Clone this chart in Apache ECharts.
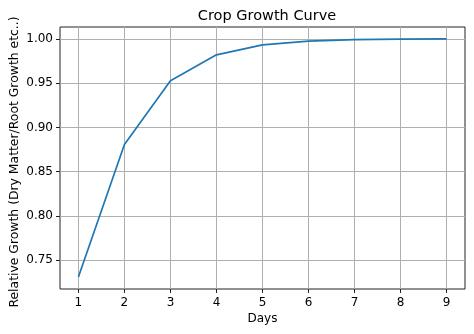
<!DOCTYPE html>
<html><head><meta charset="utf-8">
<script src="https://cdn.jsdelivr.net/npm/echarts@6/dist/echarts.min.js"></script>
<style>html,body{margin:0;padding:0;background:#fff}#c{width:474px;height:334px}</style>
</head><body><div id="c"></div>
<script>
const days = [1, 2, 3, 4, 5, 6, 7, 8, 9];
const growth = [0.7311, 0.8808, 0.9526, 0.9820, 0.9933, 0.9975, 0.9991, 0.9997, 0.9999];
const xTicks = [1, 2, 3, 4, 5, 6, 7, 8, 9];
const yTicks = [0.75, 0.80, 0.85, 0.90, 0.95, 1.00];

const font = 'DejaVu Sans';
const fs = 12;
const chart = echarts.init(document.getElementById('c'), null, {renderer: 'canvas'});
chart.setOption({
  animation: false,
  title: {text: 'Crop Growth Curve', left: 262, top: 4, textAlign: 'center',
    textStyle: {fontFamily: font, fontSize: 14.5, fontWeight: 'normal', color: '#000'}},
  grid: {left: 60, right: 9, top: 27, bottom: 45, outerBoundsMode: 'none', containLabel: false,
    show: true, borderColor: '#222', borderWidth: 1, backgroundColor: 'transparent'},
  xAxis: {
    type: 'value', min: 0.6, max: 9.4,
    name: 'Days', nameLocation: 'middle', nameGap: 24, nameMoveOverlap: false,
    nameTextStyle: {fontFamily: font, fontSize: fs, color: '#000'},
    axisLine: {show: false},
    axisTick: {show: true, length: 4, lineStyle: {color: '#222', width: 1}, customValues: xTicks},
    axisLabel: {fontFamily: font, fontSize: fs, color: '#000', margin: 8, customValues: xTicks, formatter: v => String(v)},
    splitLine: {show: true, lineStyle: {color: '#b0b0b0', width: 1}}
  },
  yAxis: {
    type: 'value', min: 0.7176, max: 1.0134,
    name: 'Relative Growth (Dry Matter/Root Growth etc..)', nameLocation: 'middle', nameGap: 39, nameMoveOverlap: false,
    nameTextStyle: {fontFamily: font, fontSize: 12.4, color: '#000', padding: [0, 8, 0, 0]},
    axisLine: {show: false},
    axisTick: {show: true, length: 4, lineStyle: {color: '#222', width: 1}, customValues: yTicks},
    axisLabel: {fontFamily: font, fontSize: fs, color: '#000', margin: 7, customValues: yTicks, formatter: v => v.toFixed(2)},
    splitLine: {show: true, lineStyle: {color: '#b0b0b0', width: 1}}
  },
  series: [{
    type: 'line', data: days.map((d, i) => [d, growth[i]]),
    showSymbol: false, symbol: 'none',
    lineStyle: {color: '#1f77b4', width: 1.7}
  }]
});
</script></body></html>
